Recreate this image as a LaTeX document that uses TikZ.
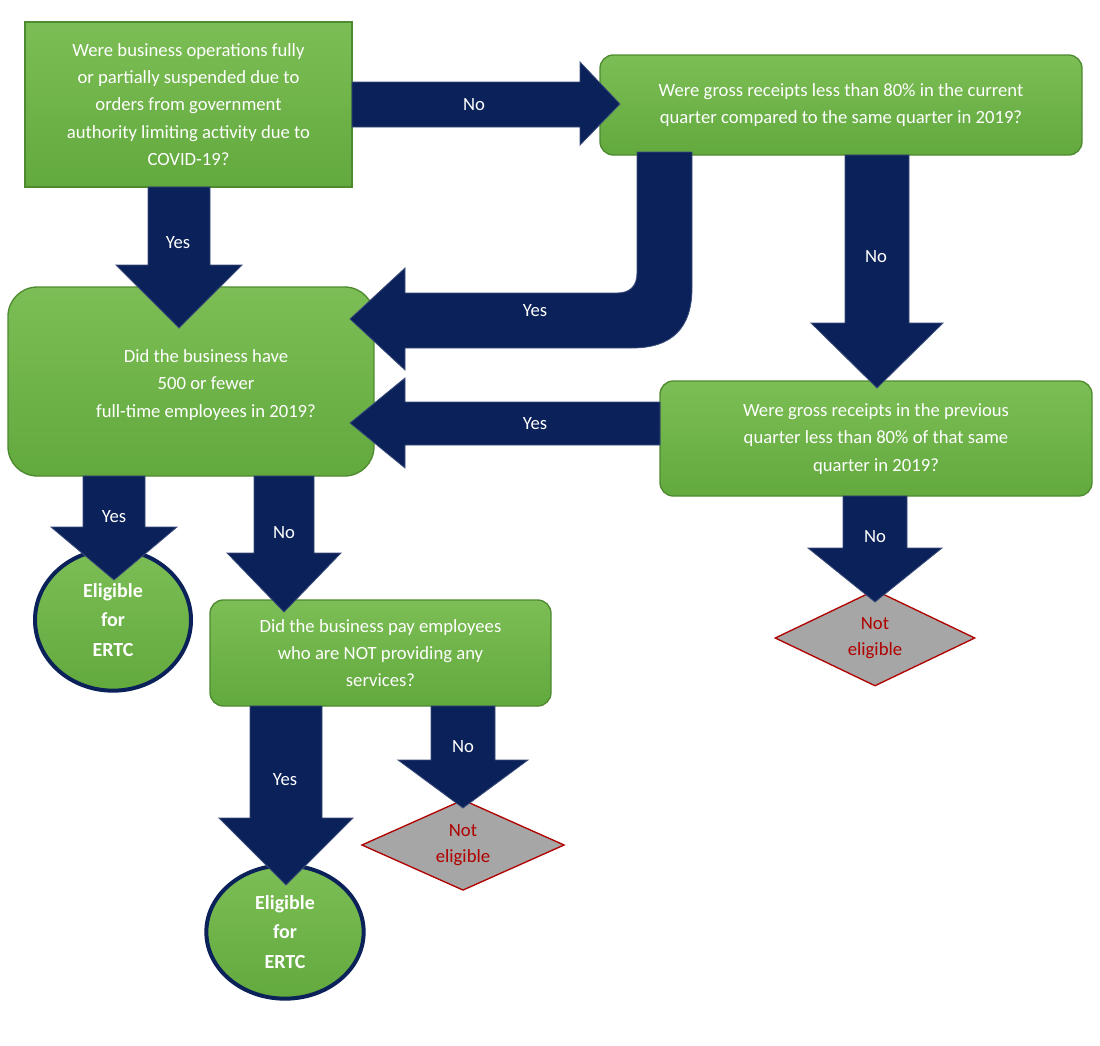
\documentclass[tikz,border=0pt]{standalone}
\usepackage{fontspec}
\setmainfont{Carlito}
\usetikzlibrary{shapes.geometric}

\definecolor{navy}{HTML}{0B215A}
\definecolor{grnT}{HTML}{7CBE55}
\definecolor{grnB}{HTML}{62A93E}
\definecolor{grnD}{HTML}{4E8A30}
\definecolor{notred}{HTML}{B00000}

\tikzset{
  qbox/.style={draw=grnD, line width=1pt, top color=grnT, bottom color=grnB},
  qtext/.style={text=white, align=center, font=\fontsize{14}{20.5}\selectfont},
  blk/.style={fill=navy, draw=navy!80!white, line width=0.6pt},
  lbl/.style={text=white, font=\fontsize{14}{16}\selectfont},
  endc/.style={ellipse, draw=navy, line width=3pt, top color=grnT, bottom color=grnB,
    text=white, align=center, font=\bfseries\fontsize{15}{22}\selectfont},
  notel/.style={diamond, aspect=2.1, draw=notred, line width=1pt, fill=black!35,
    text=notred, align=center, font=\fontsize{14}{20}\selectfont, inner sep=0pt}
}

% block arrow pointing down: xc, ytop, yhead, ybot, shaft half width, head half width
\newcommand{\blkdown}[6]{%
  \draw[blk] (#1-#5,#2) -- (#1+#5,#2) -- (#1+#5,#3) -- (#1+#6,#3) -- (#1,#4)
    -- (#1-#6,#3) -- (#1-#5,#3) -- cycle;}

\begin{document}
\begin{tikzpicture}[x=0.75pt,y=-0.75pt]
\useasboundingbox (0,0) rectangle (1100,1046);

%boxes
\draw[qbox] (25,22) rectangle (352,187);
\node[qtext] (susp) at (188.5,104.5) {Were business operations fully\\or partially suspended due to\\orders from government\\authority limiting activity due to\\COVID-19?};

\draw[qbox, rounded corners=10pt] (600,55) rectangle (1082,155);
\node[qtext] (curq) at (841,105) {Were gross receipts less than 80\% in the current\\quarter compared to the same quarter in 2019?};

\draw[qbox, rounded corners=22pt] (8,287) rectangle (374,476);
\node[qtext] (emp) at (206,385) {Did the business have\\500 or fewer\\full-time employees in 2019?};

\draw[qbox, rounded corners=10pt] (660,381) rectangle (1092,496);
\node[qtext] (prevq) at (876,439) {Were gross receipts in the previous\\quarter less than 80\% of that same\\quarter in 2019?};

\draw[qbox, rounded corners=10pt] (210,600) rectangle (551,706);
\node[qtext] (pay) at (380.5,653) {Did the business pay employees\\who are NOT providing any\\services?};

%end states
\node[endc, minimum width=117pt, minimum height=106pt] (elig1) at (113,620) {Eligible\\for\\ERTC};
\node[endc, minimum width=118pt, minimum height=100pt] (elig2) at (285,932) {Eligible\\for\\ERTC};
\node[notel, minimum width=150pt, minimum height=72pt] (not1) at (875,638) {Not\\eligible};
\node[notel, minimum width=152pt, minimum height=68pt] (not2) at (463,845) {Not\\eligible};

%arrows
\draw[blk] (352,82) -- (580,82) -- (580,62) -- (620,104) -- (580,145) -- (580,127) -- (352,127) -- cycle;
\node[lbl] (a1) at (474,105) {No};
\blkdown{179}{187}{265}{328}{31}{63}
\node[lbl] (a2) at (178,243) {Yes};
\draw[blk] (637,152) -- (692,152) -- (692,288) .. controls (692,328) and (672,348) .. (632,348)
  -- (405,348) -- (405,370) -- (350,319) -- (405,268) -- (405,293) -- (617,293)
  .. controls (630,293) and (637,286) .. (637,273) -- cycle;
\node[lbl] (a3) at (535,311) {Yes};
\blkdown{877}{155}{323}{388}{32}{66}
\node[lbl] (a4) at (876,257) {No};
\draw[blk] (660,402) -- (405,402) -- (405,378) -- (350,423) -- (405,468) -- (405,445) -- (660,445) -- cycle;
\node[lbl] (a5) at (535,424) {Yes};
\blkdown{114}{476}{527}{580}{31}{63}
\node[lbl] (a6) at (114,517) {Yes};
\blkdown{284}{476}{553}{612}{30}{57}
\node[lbl] (a7) at (284,533) {No};
\blkdown{875}{496}{548}{602}{32}{67}
\node[lbl] (a8) at (875,537) {No};
\blkdown{463}{706}{760}{808}{32}{65}
\node[lbl] (a9) at (463,747) {No};
\blkdown{286}{706}{818}{885}{36}{67}
\node[lbl] (a10) at (285,780) {Yes};
\end{tikzpicture}
\end{document}
